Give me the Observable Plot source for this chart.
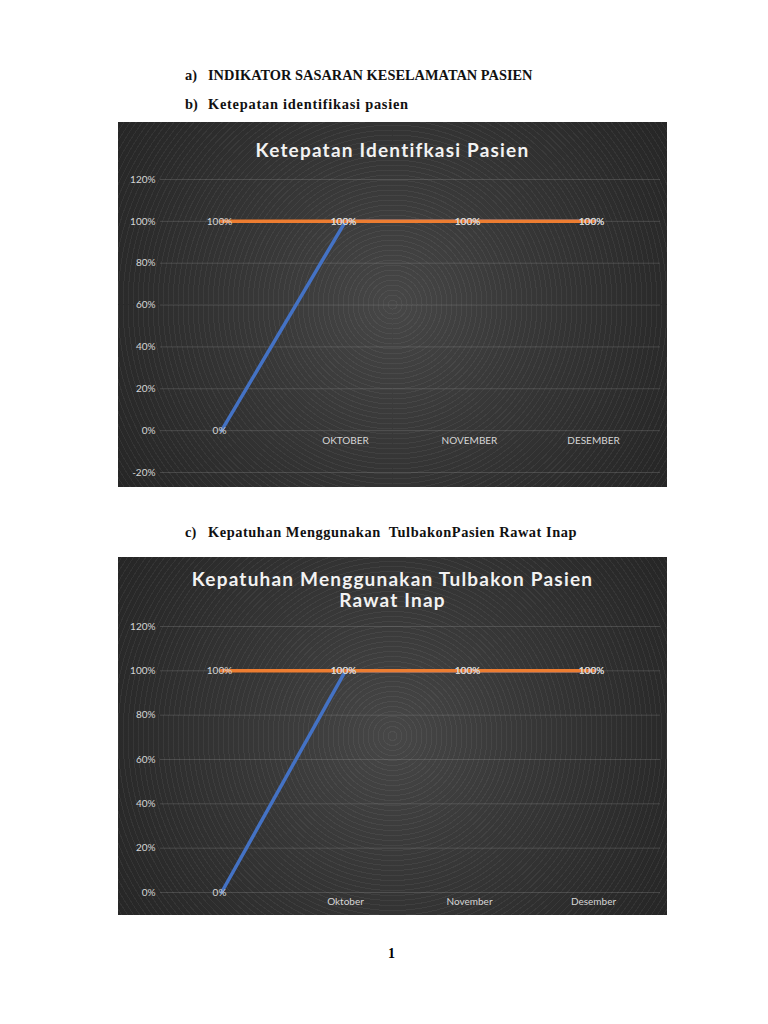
<!DOCTYPE html>
<html>
<head>
<meta charset="utf-8">
<script src="https://cdn.jsdelivr.net/npm/d3@7"></script>
<script src="https://cdn.jsdelivr.net/npm/@observablehq/plot@0.6"></script>
<style>
  html, body { margin: 0; padding: 0; background: #ffffff; }
  body { width: 768px; height: 1024px; position: relative; overflow: hidden; }
  .head { position: absolute; font-family: "Liberation Serif", "DejaVu Serif", serif; font-weight: bold; font-size: 14.4px; color: #111; white-space: pre; }
  .head .lbl { position: absolute; left: 0; }
  .head .txt { position: absolute; left: 23px; }
  .chart { position: absolute; left: 118px; width: 549px; overflow: hidden;
    background:
      repeating-radial-gradient(circle at 50% 50%, rgba(255,255,255,0) 0px, rgba(255,255,255,0) 4px, rgba(255,255,255,0.05) 4px, rgba(255,255,255,0.05) 5px),
      radial-gradient(circle at 50% 50%, #474747 0%, #383838 40%, #2b2b2b 80%, #262626 100%);
  }
  .chart svg { position: absolute; left: 0; top: 0; background: transparent; }
  .ctitle { position: absolute; left: 0; width: 549px; text-align: center; color: #f2f2f2;
    font-family: Lato, "Open Sans", sans-serif; font-weight: bold; font-size: 19px; letter-spacing: 1.2px; line-height: 21px; }
  .pnum { position: absolute; left: 388px; top: 946px; font-family: "Liberation Serif", serif; font-weight: bold; font-size: 14px; }
</style>
</head>
<body>
<div class="head" style="left:185px; top:67px;"><span class="lbl">a)</span><span class="txt">INDIKATOR SASARAN KESELAMATAN PASIEN</span></div>
<div class="head" style="left:185px; top:96px;"><span class="lbl">b)</span><span class="txt" style="letter-spacing:0.75px;">Ketepatan identifikasi pasien</span></div>
<div class="chart" id="c1" style="top:122px; height:365px;"><div class="ctitle" style="top:17px;">Ketepatan Identifkasi Pasien</div></div>
<div class="head" style="left:185px; top:524px;"><span class="lbl">c)</span><span class="txt" style="letter-spacing:0.55px;">Kepatuhan Menggunakan  TulbakonPasien Rawat Inap</span></div>
<div class="chart" id="c2" style="top:557px; height:358px;"><div class="ctitle" style="top:11px;">Kepatuhan Menggunakan Tulbakon Pasien<br>Rawat Inap</div></div>
<div class="pnum">1</div>
<script>
// ---- data ----
const categories1 = ["", "OKTOBER", "NOVEMBER", "DESEMBER"];
const categories2 = ["", "Oktober", "November", "Desember"];
const blueValues = [0, 1, 1, 1];
const orangeValues = [1, 1, 1, 1];
const yTicks1 = [-0.2, 0, 0.2, 0.4, 0.6, 0.8, 1.0, 1.2];
const yTicks2 = [0, 0.2, 0.4, 0.6, 0.8, 1.0, 1.2];

const pct = d3.format(".0%");
const fmt = v => pct(v).replace("\u2212", "-");
const txtColor = "#d6d6d6";
const fontFam = "Lato, 'Open Sans', sans-serif";

function makeChart(cats, yTicks, yDomain, opts) {
  const blue = cats.map((c, i) => ({cat: c, v: blueValues[i]}));
  const orange = cats.map((c, i) => ({cat: c, v: orangeValues[i]}));
  return Plot.plot({
    width: 549,
    height: opts.height,
    marginTop: opts.marginTop,
    marginBottom: opts.marginBottom,
    marginLeft: 42,
    marginRight: 7,
    style: {background: "transparent", color: txtColor, fontFamily: fontFam, fontSize: "10px"},
    x: {type: "point", domain: cats, padding: 0.5, range: [41, 537], axis: null},
    y: {domain: yDomain, axis: null},
    marks: [
      Plot.gridY(yTicks, {stroke: "#9a9a9a", strokeOpacity: 0.35, strokeWidth: 0.8}),
      Plot.axisY(yTicks, {tickFormat: fmt, tickSize: 0, tickPadding: 5, fill: txtColor, fontSize: 10, label: null}),
      Plot.text(cats, {x: d => d, y: 0, dy: opts.catDy, text: d => d, fill: txtColor, fontSize: 10, letterSpacing: opts.spacing}),
      Plot.line(blue, {x: "cat", y: "v", stroke: "#4472C4", strokeWidth: 3.5}),
      Plot.line(orange, {x: "cat", y: "v", stroke: "#ED7D31", strokeWidth: 3.5}),
      Plot.text(blue, {x: "cat", y: "v", text: d => fmt(d.v), fill: txtColor, fontSize: 10, dx: -2}),
      Plot.text(orange, {x: "cat", y: "v", text: d => fmt(d.v), fill: txtColor, fontSize: 10, dx: -2})
    ]
  });
}

const p1 = makeChart(categories1, yTicks1, [-0.2, 1.2], {height: 365, marginTop: 57, marginBottom: 15, catDy: 10, spacing: "0.5px"});
document.getElementById("c1").appendChild(p1);
const p2 = makeChart(categories2, yTicks2, [0, 1.2], {height: 358, marginTop: 69, marginBottom: 23, catDy: 9, spacing: "0.3px"});
document.getElementById("c2").appendChild(p2);
</script>
</body>
</html>
